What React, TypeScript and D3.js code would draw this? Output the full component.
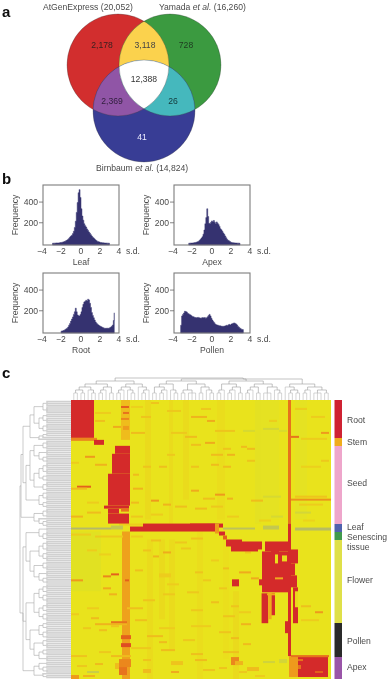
import React from "react";
import * as d3 from "d3";

const FONT = "'Liberation Sans', Arial, sans-serif";

// ---- Panel a ----
const vennSets = [
  { id: "red", cx: 118, cy: 65, r: 51 },
  { id: "green", cx: 170, cy: 65, r: 51 },
  { id: "blue", cx: 144, cy: 111, r: 51 },
];
const vennLabels: [string, number, number, string][] = [
  ["2,178", 102, 45, "#3a2020"],
  ["3,118", 145, 45, "#444"],
  ["728", 186, 45, "#1f3a20"],
  ["12,388", 144, 79, "#333"],
  ["2,369", 112, 101, "#332040"],
  ["26", 173, 101, "#14383a"],
  ["41", 142, 137, "#eef"],
];

// ---- Panel b: value per 0.1 s.d. starting at binStart ----
const leafStart = -3.0;
const leafValues = [2,3,3,4,5,4,5,6,8,10,12,15,18,22,28,33,40,50,62,72,80,95,118,155,215,300,395,490,520,445,335,265,225,190,172,158,140,125,110,98,85,72,60,52,42,33,26,20,17,14,10,8,7,6,5,4,4,3,3,2,2];
const apexStart = -2.45;
const apexValues = [2,3,4,4,5,6,8,10,13,17,22,30,40,52,65,90,130,190,250,335,260,195,190,205,218,208,222,205,190,208,195,182,165,142,132,118,102,88,72,55,40,30,25,18,11,8,7,6,5,4,4,3,3,2,2];
const rootStart = -2.1;
const rootValues = [3,5,8,12,18,25,32,42,60,78,100,120,140,165,190,225,190,160,152,150,165,190,232,262,285,292,302,295,312,305,272,232,182,155,132,110,92,80,70,62,55,50,45,40,36,32,30,30,32,30,32,36,42,50,62,105,180];
const pollenStart = -3.3;
const pollenValues = [60,150,165,178,195,192,188,175,170,165,160,152,145,142,138,135,132,135,136,133,130,128,132,134,130,135,128,132,142,155,165,150,128,110,95,85,72,65,62,60,56,55,52,50,50,50,52,55,60,58,65,68,62,72,75,80,82,78,72,62,48,40,32,25,20,18,15];
const histPanels = [
  { name: "Leaf", start: leafStart, values: leafValues, x0: 43, y0: 185 },
  { name: "Apex", start: apexStart, values: apexValues, x0: 174, y0: 185 },
  { name: "Root", start: rootStart, values: rootValues, x0: 43, y0: 273 },
  { name: "Pollen", start: pollenStart, values: pollenValues, x0: 174, y0: 273 },
];
const xTicks = [-4, -2, 0, 2, 4];
const yTicks = [200, 400];

// ---- Panel c: heat map, in column / row units ----
type Cell = [number, number, number, number, number]; // c0,c1,r0,r1,value
const columnTints: Cell[] = [
  [0, 15, 66, 96, -0.06], [25, 29.5, 0, 20, 0.5], [25.5, 29.5, 66, 140, 0.66],
  [37, 40, 0, 60, 0.12], [38, 41, 70, 140, 0.1],
  [44, 47, 70, 110, 0.12], [49, 51, 0, 62, 0.1], [49, 52, 70, 125, 0.1],
  [56, 59, 0, 50, 0.1], [63, 66, 66, 140, 0.08], [73, 77, 0, 60, 0.08],
  [81, 84, 96, 140, 0.12], [92, 95, 0, 62, -0.04], [95, 104, 0, 60, -0.03],
  [108.5, 110, 0, 62, 0.8], [112, 118, 0, 60, -0.03], [76, 79, 70, 130, 0.05],
];
const streaks: Cell[] = [
  [25,29,3,4,.85],[26,29,6,7,.8],[25,29,9,10,.75],[26,29,13,15,.7],[12,20,6,7,.3],[30,36,3,4,.25],
  [40,44,1,2,.4],[48,55,5,6,.35],[35,40,8,9,.4],[65,70,4,5,.35],[12,17,10,11,.45],[21,25,13,14,.6],
  [30,37,16,17,.5],[50,58,16,17,.35],[57,63,18,19,.5],[60,68,8,9,.55],[68,72,10,11,.6],[72,82,15,16,.4],
  [67,72,21,22,.6],[60,65,22,23,.45],[86,92,15,16,-.2],[96,104,14,15,-.25],[104,108,15,16,-.15],[110,114,18,19,.8],
  [115,128,19,20,.3],[125,129,16,17,.7],[70,76,27,28,.5],[78,82,27,28,.55],[76,80,24,25,.4],[85,88,23,24,.5],
  [88,92,24,25,.5],[99,103,10,11,.3],[112,118,4,5,.3],[120,127,8,9,.3],[12,18,32,33,.55],[7,12,28,29,.7],
  [0,4,31,32,.3],[3,10,43,44,.85],[0,8,44,45,.5],[31,34,37,38,.5],[36,40,33,34,.4],[44,48,33,34,.45],
  [48,52,27,28,.35],[60,64,33,34,.4],[70,74,32,33,.5],[76,80,33,34,.5],[88,92,30,31,.4],[115,125,33,34,.25],
  [125,129,30,31,.35],[60,64,45,46,.6],[66,72,49,50,.45],[72,77,47,48,.7],[78,81,49,50,.55],[31,36,44,45,.55],
  [90,96,50,51,.5],[96,105,48,49,-.2],[110,130,49.5,50.5,.72],[112,128,48,49,.4],[114,126,52,53,.3],[112,120,56,57,-.25],
  [30,34,51,52,.5],[40,44,50,51,.7],[46,50,52,53,.55],[52,58,53,54,.45],[62,68,54,55,.5],[70,76,53,54,.35],
  [78,84,58,59,.3],[8,14,51,52,.3],[0,6,58,59,.55],[8,15,56,57,.5],[30,36,58,59,.35],[40,46,57,58,.3],
  [94,100,60,61,.25],[100,106,58,59,-.2],[116,122,60,61,.2],
  [0,20,64,65,-.75],[24,36,62,63,.3],[20,26,63,65,-.5],[68,74,62,63,-.4],[76,92,64,65,-.6],[96,104,63,65,-.5],[112,130,64,65.5,-.7],
  [0,10,67,68,.3],[12,26,68,69,.35],[30,36,68,69,.3],[40,45,70,71,.45],[52,58,71,72,.35],[60,66,69,70,.4],
  [8,13,75,76,.3],[14,20,77,78,.25],[36,40,75,76,.4],[41,44,78,79,.55],[46,50,76,77,.6],[55,60,74,75,.35],
  [70,74,80,81,.3],[76,79,84,85,.45],[87,90,76,77,.4],[0,6,90,91,.7],[16,20,88,89,.75],[20,24,87,88,.85],
  [27,29,90,91,.85],[32,36,85,86,.45],[44,50,87,89,.3],[48,54,92,93,.3],[62,66,86,87,.4],[66,70,90,91,.35],
  [84,90,86,87,.6],[90,94,89,90,.6],[74,78,94,95,.35],[16,20,94,95,.6],[19,23,97,98,.55],[36,42,100,101,.4],
  [46,52,97,98,.35],[58,64,96,97,.35],[70,74,101,102,.45],[80,84,103,104,.4],[8,14,104,105,.3],[28,36,104,105,.45],
  [60,66,105,106,.35],[76,82,108,109,.4],[84,90,106,107,.3],[115,120,103,104,.45],[122,126,106,107,.7],
  [0,4,107,108,.3],[10,14,109,110,.5],[12,28,112,113,.55],[20,28,111,112,.8],[6,10,114,115,.35],[14,18,115,116,.45],
  [20,24,113,114,.4],[32,38,110,111,.45],[44,52,114,115,.3],[60,70,113,114,.3],[85,90,112,113,.55],[115,124,110,111,.3],
  [38,46,118,119,.5],[44,48,121,122,.5],[56,62,120,121,.35],[74,80,116,117,.4],[80,84,119,120,.5],[86,90,122,123,.5],
  [25,30,118,120,.85],[25,30,122,124,.9],[30,40,124,125,.35],[45,52,125,126,.5],[60,66,127,128,.45],[76,84,126,127,.45],
  [14,20,126,127,.35],[0,8,128,129,.4],[20,30,128,129,.5],
  [36,40,130,131,.4],[50,56,131,133,.4],[62,68,130,131,.5],[80,84,129,133,.75],[82,86,131,133,.55],[74,78,134,135,.4],
  [8,14,136,137,-.4],[0,4,138,140,.7],[6,12,138,139,.55],[22,26,132,135,.5],[24,28,134,138,.8],[24,30,130,134,.75],
  [36,40,135,137,.5],[88,94,134,136,.5],[96,102,131,132,-.3],[84,88,136,137,.35],[104,108,130,132,-.25],
  [50,54,136,137,.6],[66,72,135,136,.4],[12,16,132,133,.5],[3,8,133,134,.35],[92,97,138,139,.3],
];
const redBlocks: Cell[] = [
  [0, 11.5, 0, 19, 1], [0, 13, 19, 20.5, 0.75], [11.5, 16.5, 20, 22.5, 1],
  [22, 29.5, 23, 27, 1], [20.5, 29.5, 27, 37, 1], [18.5, 29.5, 37, 53, 1], [16.5, 29, 53, 54.5, 1],
  [18.5, 24, 54.5, 57, 1], [25, 29, 54.5, 56, 0.8], [18.5, 29, 57, 62, 1],
  [29.5, 36, 63.5, 66, 1], [36, 72, 62, 66, 1], [59.5, 69, 62, 65, 1], [69, 76, 62, 64, 1],
  [77.5, 85.5, 70, 73.5, 1], [80, 93.5, 72, 76, 1], [85.5, 95.5, 71, 75, 1], [97, 110, 71, 76, 1],
  [95.5, 109.5, 76, 96.5, 1], [80.5, 84, 90, 93.5, 1], [94, 95.5, 90, 93, 1],
  [110, 113.5, 75, 82, 1], [110, 112, 82, 88, 1], [110, 113, 88, 94, 1], [111, 113.5, 94, 112, 1],
  [95.3, 98.6, 97, 112, 1], [98.6, 100.3, 97, 110, 0.6], [100.3, 102, 97, 108, 1],
  [108.5, 110, 62, 128.5, 1], [107, 110, 111, 117, 1], [113.5, 128.5, 129, 139, 1],
  [109, 113.5, 128.5, 139, 0.7], [110, 129, 128, 129, 0.8],
  [74, 77, 66, 68, 1], [76, 78, 68, 70, 0.85], [72, 74, 62, 67, 0.7], [100, 104, 75, 77, 1],
];
const blockHoles: Cell[] = [
  [102, 103.5, 77.5, 82, 0.05], [105.5, 108, 78, 81, 0.1], [102, 106, 89, 90, 0.6], [98, 102, 97, 98, 0.6],
  [113.5, 116, 130, 131, 0.8], [113.5, 115, 133, 135, 0.8], [122, 126, 136, 137, 0.85], [112, 113.5, 96, 104, 0.15],
];
const stripSegments: [string, number, number, string][] = [
  ["Root", 400, 438, "#cf2430"], ["Stem", 438, 446, "#f0ac1e"], ["Seed", 446, 524, "#eea6cb"],
  ["Leaf", 524, 532, "#4f62ad"], ["Senescing", 532, 540, "#3f9a4d"], ["Flower", 540, 623, "#dfe04a"],
  ["Pollen", 623, 657, "#2b2b2b"], ["Apex", 657, 679, "#9a55a8"],
];
const stripLabels: [string, number][] = [
  ["Root", 420], ["Stem", 442], ["Seed", 483], ["Leaf", 527], ["Senescing", 537], ["tissue", 547],
  ["Flower", 580], ["Pollen", 641], ["Apex", 667],
];

// Dendrograms: a number n is a bush of n leaves
type Tree = number | Tree[];
const leftTree: Tree = [
  [
    [
      [[[3, 4], [[2, 3], [3, 2]]], [[2, 1], 1]],
      [[[[3, 2], [3, [2, 2]]], [[[3, 3], [2, 2]], [3, 2]]], [[2, 3], [2, 2]]],
    ],
    [[3, 2], [1, [2, 2]]],
  ],
  [
    [[[1, 1], [3, 2]], [[[3, 3], [2, 3]], [[2, 3], [3, [2, 2]]]]],
    [[[[3, 2], [2, 3]], [[3, 2], [2, 3]]], [[[2, 2], [3, 2]], [[2, 3], [[2, 2], 3]]]],
    [[2, [2, 2]], [1, 2]],
  ],
];
const topTree: Tree = [
  [[[[2, 2], [1, 2]], [[2, 1], 2]], [[[2, 1], [1, 2]], [1, [2, 1]]]],
  [
    [[[2, [2, 1]], [1, 2]], [[2, 3], [2, [1, 2]]]],
    [[[2, 1], [[2, 1], 2]], [[[2, 1], 2], [3, [1, 2]]]],
    [[1, [2, 2]], [[2, 1], [3, 2]]],
  ],
];
const leftDepthX = [71, 47, 43, 39, 34, 30, 26, 23, 21, 20];
const topDepthY = [400, 393, 390, 387, 384, 381, 379, 378, 377, 377];

const kids = (d: Tree): Tree[] | null =>
  Array.isArray(d) ? d : d > 1 ? d3.range(d).map(() => 1) : null;

function dendroLinks(tree: Tree, span: [number, number]) {
  const root = d3.hierarchy<Tree>(tree, kids);
  d3.cluster<Tree>().size([1, 1]).separation(() => 1)(root);
  const along = d3.scaleLinear().domain([0, 1]).range(span);
  return root.links().map((l) => ({
    a0: along(l.source.x!), a1: along(l.target.x!), h0: l.source.height, h1: l.target.height,
  }));
}

const heat = d3.scaleLinear<string>().domain([-1, -0.1, 0, 0.5, 0.7, 0.85, 1])
  .range(["#a4ab82", "#dcdf28", "#e9e31c", "#efbc1e", "#ee9a1e", "#e4601f", "#d42a2a"]).clamp(true);
const colX = d3.scaleLinear().domain([0, 130]).range([71, 331]);
const rowY = d3.scaleLinear().domain([0, 140]).range([400, 679]);

function Histogram({ name, start, values, x0, y0 }: (typeof histPanels)[number]) {
  const x = d3.scaleLinear().domain([-4, 4]).range([x0, x0 + 76]);
  const y = d3.scaleLinear().domain([-15, 565]).range([y0 + 60, y0]);
  const bins = values.map((v, i) => ({ s: start + i * 0.1, v }));
  const area = d3.area<(typeof bins)[number]>().x((d) => x(d.s)).y0(y0 + 60).y1((d) => y(d.v)).curve(d3.curveStepAfter);
  return (
    <g fontFamily={FONT} fontSize={8.6} fill="#4a4a4a">
      <path d={area(bins) ?? ""} fill="#35326f" stroke="#35326f" strokeWidth={0.5} />
      <rect x={x0} y={y0} width={76} height={60} fill="none" stroke="#7d7d7d" strokeWidth={1.1} />
      {yTicks.map((t) => (
        <g key={t}>
          <line x1={x0 - 4} x2={x0} y1={y(t)} y2={y(t)} stroke="#666" strokeWidth={0.8} />
          <text x={x0 - 5} y={y(t) + 3} textAnchor="end">{t}</text>
        </g>
      ))}
      {xTicks.map((t) => (
        <text key={t} x={x(t) - (t < 0 ? 1 : 0)} y={y0 + 69} textAnchor="middle">{t < 0 ? `\u2212${-t}` : t}</text>
      ))}
      <text x={x0 + 83} y={y0 + 69}>s.d.</text>
      <text x={x0 + 38} y={y0 + 79.5} textAnchor="middle">{name}</text>
      <text transform={`translate(${x0 - 25},${y0 + 30}) rotate(-90)`} textAnchor="middle">Frequency</text>
    </g>
  );
}

function HeatRects({ cells }: { cells: Cell[] }) {
  return (
    <>
      {cells.map(([c0, c1, r0, r1, v], i) => (
        <rect key={i} x={colX(c0)} y={rowY(r0)} width={colX(c1) - colX(c0)} height={rowY(r1) - rowY(r0)} fill={heat(v)} />
      ))}
    </>
  );
}

export default function App() {
  const [red, green, blue] = vennSets;
  const leftLinks = dendroLinks(leftTree, [400.5, 678.5]);
  const topLinks = dendroLinks(topTree, [72, 330]);
  return (
    <svg width={389} height={685} style={{ position: "absolute", left: 0, top: 0, background: "#fff" }}>
      <defs>
        <filter id="soft" x="0" y="0" width="100%" height="100%"><feGaussianBlur stdDeviation="0.45" /></filter>
        {vennSets.map((c) => (
          <clipPath key={c.id} id={`clip-${c.id}`}><circle cx={c.cx} cy={c.cy} r={c.r} /></clipPath>
        ))}
        <clipPath id="clip-rg" clipPath="url(#clip-red)"><circle cx={green.cx} cy={green.cy} r={green.r} /></clipPath>
      </defs>
      <g filter="url(#soft)">
        {/* panel letters */}
        <g fontFamily={FONT} fontWeight={700} fontSize={15} fill="#111">
          <text x={2} y={17}>a</text>
          <text x={2} y={184}>b</text>
          <text x={2} y={378}>c</text>
        </g>

        {/* Venn */}
        <circle cx={red.cx} cy={red.cy} r={red.r} fill="#d22f2f" />
        <circle cx={green.cx} cy={green.cy} r={green.r} fill="#3a9a41" />
        <circle cx={blue.cx} cy={blue.cy} r={blue.r} fill="#393e95" />
        <g clipPath="url(#clip-red)"><circle cx={green.cx} cy={green.cy} r={green.r} fill="#fbd24e" /></g>
        <g clipPath="url(#clip-red)"><circle cx={blue.cx} cy={blue.cy} r={blue.r} fill="#9055a6" /></g>
        <g clipPath="url(#clip-green)"><circle cx={blue.cx} cy={blue.cy} r={blue.r} fill="#45b8bd" /></g>
        <g clipPath="url(#clip-rg)"><circle cx={blue.cx} cy={blue.cy} r={blue.r} fill="#ffffff" /></g>
        {vennSets.map((c) => (
          <circle key={c.id} cx={c.cx} cy={c.cy} r={c.r} fill="none" stroke="#333" strokeWidth={0.3} />
        ))}
        <g fontFamily={FONT} fontSize={8.6} fill="#4a4a4a">
          <text x={43} y={10}>AtGenExpress (20,052)</text>
          <text x={159} y={10}>Yamada <tspan fontStyle="italic">et al.</tspan> (16,260)</text>
          <text x={96} y={171}>Birnbaum <tspan fontStyle="italic">et al.</tspan> (14,824)</text>
          {vennLabels.map(([t, x, y, col]) => (
            <text key={t} x={x} y={y + 3} textAnchor="middle" fill={col}>{t}</text>
          ))}
        </g>

        {/* Histograms */}
        {histPanels.map((p) => <Histogram key={p.name} {...p} />)}

        {/* Dendrograms */}
        <g fill="none">
          {leftLinks.map((l, i) => (
            <path key={i} stroke={l.h1 === 0 ? "#d0d0d0" : "#a8a8a8"} strokeWidth={l.h1 === 0 ? 1.5 : 0.6}
              d={`M${leftDepthX[l.h0]},${l.a0}V${l.a1}H${leftDepthX[l.h1]}`} />
          ))}
          {topLinks.map((l, i) => (
            <path key={i} stroke={l.h1 === 0 ? "#b8b8b8" : "#9a9a9a"} strokeWidth={0.6}
              d={`M${l.a0},${topDepthY[l.h0]}H${l.a1}V${topDepthY[l.h1]}`} />
          ))}
        </g>

        {/* Heat map */}
        <rect x={colX(0)} y={rowY(0)} width={colX(130) - colX(0)} height={rowY(140) - rowY(0)} fill={heat(0)} />
        <HeatRects cells={columnTints} />
        <HeatRects cells={streaks} />
        <HeatRects cells={redBlocks} />
        <HeatRects cells={blockHoles} />

        {/* Tissue strip */}
        {stripSegments.map(([n, y0, y1, col]) => (
          <rect key={n} x={334.5} y={y0} width={7.5} height={y1 - y0} fill={col} />
        ))}
        <g fontFamily={FONT} fontSize={8.6} fill="#4a4a4a">
          {stripLabels.map(([t, y]) => <text key={t} x={347} y={y + 3}>{t}</text>)}
        </g>
      </g>
    </svg>
  );
}
